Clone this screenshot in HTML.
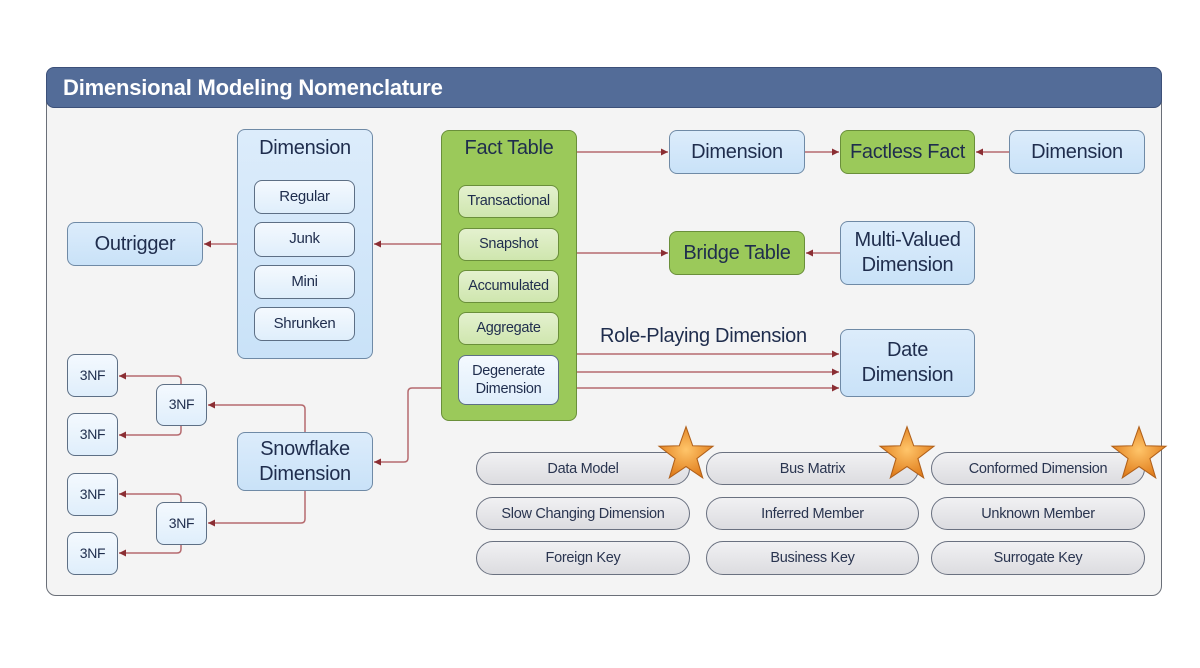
<!DOCTYPE html>
<html><head><meta charset="utf-8"><style>
*{margin:0;padding:0;box-sizing:border-box}
body{width:1200px;height:668px;background:#fff;position:relative;overflow:hidden;font-family:"Liberation Sans",sans-serif;color:#1f2d4d}
.b{position:absolute;display:flex;align-items:center;justify-content:center;text-align:center;border-radius:8px;line-height:1.25;letter-spacing:-0.3px}
.blue{background:linear-gradient(#dcecfb,#c9e2f8);border:1.5px solid #6f8aa6}
.lt{background:linear-gradient(#f4f9fe,#dfeefb);border:1.5px solid #5d6f85}
.green{background:#9bc95a;border:1.5px solid #6a8f3a}
.lg{background:linear-gradient(#e4f1cf,#cfe6ae);border:1.5px solid #6a8f3a}
.pill{position:absolute;display:flex;align-items:center;justify-content:center;border-radius:17px;border:1.5px solid #6a7180;background:linear-gradient(#f1f1f3,#dcdce0);font-size:14.5px;color:#2a3550;letter-spacing:-0.3px}
</style></head><body>
<div style="position:absolute;left:46px;top:67px;width:1116px;height:529px;border:1.5px solid #6a6f78;border-radius:10px;background:#f4f4f4"></div>
<div style="position:absolute;left:46px;top:67px;width:1116px;height:41px;border-radius:8px;background:#536c98;border:1.5px solid #3c5079;color:#fff;font-size:22px;font-weight:bold;padding-left:16px;line-height:39px;letter-spacing:-0.2px">Dimensional Modeling Nomenclature</div>

<svg width="1200" height="668" style="position:absolute;left:0;top:0">
<defs><marker id="a" markerWidth="8" markerHeight="8" refX="7" refY="4" orient="auto" markerUnits="userSpaceOnUse"><path d="M0,0.5 L7,4 L0,7.5z" fill="#8b2e33"/></marker></defs>
<g stroke="#b56a6e" stroke-width="1.5" fill="none" marker-end="url(#a)">
<path d="M441,244 H374"/>
<path d="M237,244 H204"/>
<path d="M577,152 H668"/>
<path d="M805,152 H839"/>
<path d="M1009,152 H976"/>
<path d="M577,253 H668"/>
<path d="M840,253 H806"/>
<path d="M577,354 H839"/>
<path d="M577,372 H839"/>
<path d="M577,388 H839"/>
<path d="M441,388 H412 Q408,388 408,392 V458 Q408,462 404,462 H374"/>
<path d="M305,432 V409 Q305,405 301,405 H208"/>
<path d="M305,491 V519 Q305,523 301,523 H208"/>
<path d="M181,384 V380 Q181,376 177,376 H119"/>
<path d="M181,426 V431 Q181,435 177,435 H119"/>
<path d="M181,502 V498 Q181,494 177,494 H119"/>
<path d="M181,545 V549 Q181,553 177,553 H119"/>
</g>
</svg>

<div class="b blue" style="left:237px;top:129px;width:136px;height:230px;align-items:flex-start;padding-top:6px;font-size:20px">Dimension</div>
<div class="b lt" style="left:254px;top:180px;width:101px;height:34px;font-size:15px">Regular</div>
<div class="b lt" style="left:254px;top:222px;width:101px;height:35px;font-size:15px">Junk</div>
<div class="b lt" style="left:254px;top:265px;width:101px;height:34px;font-size:15px">Mini</div>
<div class="b lt" style="left:254px;top:307px;width:101px;height:34px;font-size:15px">Shrunken</div>

<div class="b green" style="left:441px;top:130px;width:136px;height:291px;align-items:flex-start;padding-top:5px;font-size:20px">Fact Table</div>
<div class="b lg" style="left:458px;top:185px;width:101px;height:33px;font-size:14.5px">Transactional</div>
<div class="b lg" style="left:458px;top:228px;width:101px;height:33px;font-size:14.5px">Snapshot</div>
<div class="b lg" style="left:458px;top:270px;width:101px;height:33px;font-size:14.5px">Accumulated</div>
<div class="b lg" style="left:458px;top:312px;width:101px;height:33px;font-size:14.5px">Aggregate</div>
<div class="b lt" style="left:458px;top:355px;width:101px;height:50px;font-size:14.5px">Degenerate<br>Dimension</div>

<div class="b blue" style="left:67px;top:222px;width:136px;height:44px;font-size:20px">Outrigger</div>
<div class="b blue" style="left:669px;top:130px;width:136px;height:44px;font-size:20px">Dimension</div>
<div class="b green" style="left:840px;top:130px;width:135px;height:44px;font-size:20px">Factless Fact</div>
<div class="b blue" style="left:1009px;top:130px;width:136px;height:44px;font-size:20px">Dimension</div>
<div class="b green" style="left:669px;top:231px;width:136px;height:44px;font-size:20px">Bridge Table</div>
<div class="b blue" style="left:840px;top:221px;width:135px;height:64px;font-size:20px">Multi-Valued<br>Dimension</div>
<div style="position:absolute;left:600px;top:325px;font-size:20px;letter-spacing:-0.3px">Role-Playing Dimension</div>
<div class="b blue" style="left:840px;top:329px;width:135px;height:68px;font-size:20px">Date<br>Dimension</div>
<div class="b blue" style="left:237px;top:432px;width:136px;height:59px;font-size:20px">Snowflake<br>Dimension</div>

<div class="b lt" style="left:67px;top:354px;width:51px;height:43px;font-size:14px">3NF</div>
<div class="b lt" style="left:67px;top:413px;width:51px;height:43px;font-size:14px">3NF</div>
<div class="b lt" style="left:67px;top:473px;width:51px;height:43px;font-size:14px">3NF</div>
<div class="b lt" style="left:67px;top:532px;width:51px;height:43px;font-size:14px">3NF</div>
<div class="b lt" style="left:156px;top:384px;width:51px;height:42px;font-size:14px">3NF</div>
<div class="b lt" style="left:156px;top:502px;width:51px;height:43px;font-size:14px">3NF</div>

<div class="pill" style="left:476px;top:452px;width:214px;height:33px">Data Model</div>
<div class="pill" style="left:706px;top:452px;width:213px;height:33px">Bus Matrix</div>
<div class="pill" style="left:931px;top:452px;width:214px;height:33px">Conformed Dimension</div>
<div class="pill" style="left:476px;top:497px;width:214px;height:33px">Slow Changing Dimension</div>
<div class="pill" style="left:706px;top:497px;width:213px;height:33px">Inferred Member</div>
<div class="pill" style="left:931px;top:497px;width:214px;height:33px">Unknown Member</div>
<div class="pill" style="left:476px;top:541px;width:214px;height:34px">Foreign Key</div>
<div class="pill" style="left:706px;top:541px;width:213px;height:34px">Business Key</div>
<div class="pill" style="left:931px;top:541px;width:214px;height:34px">Surrogate Key</div>

<svg width="1200" height="668" style="position:absolute;left:0;top:0">
<defs><radialGradient id="s" cx="50%" cy="45%" r="55%"><stop offset="0" stop-color="#ffc56a"/><stop offset="1" stop-color="#e07d1c"/></radialGradient></defs>
<g fill="url(#s)" stroke="#b0601a" stroke-width="1">
<polygon transform="translate(686,455) scale(1.05)" points="0,-27 6.4,-8.8 25.7,-8.3 10.4,3.4 15.9,21.8 0,11 -15.9,21.8 -10.4,3.4 -25.7,-8.3 -6.4,-8.8"/>
<polygon transform="translate(907,455) scale(1.05)" points="0,-27 6.4,-8.8 25.7,-8.3 10.4,3.4 15.9,21.8 0,11 -15.9,21.8 -10.4,3.4 -25.7,-8.3 -6.4,-8.8"/>
<polygon transform="translate(1139,455) scale(1.05)" points="0,-27 6.4,-8.8 25.7,-8.3 10.4,3.4 15.9,21.8 0,11 -15.9,21.8 -10.4,3.4 -25.7,-8.3 -6.4,-8.8"/>
</g>
</svg>
</body></html>
